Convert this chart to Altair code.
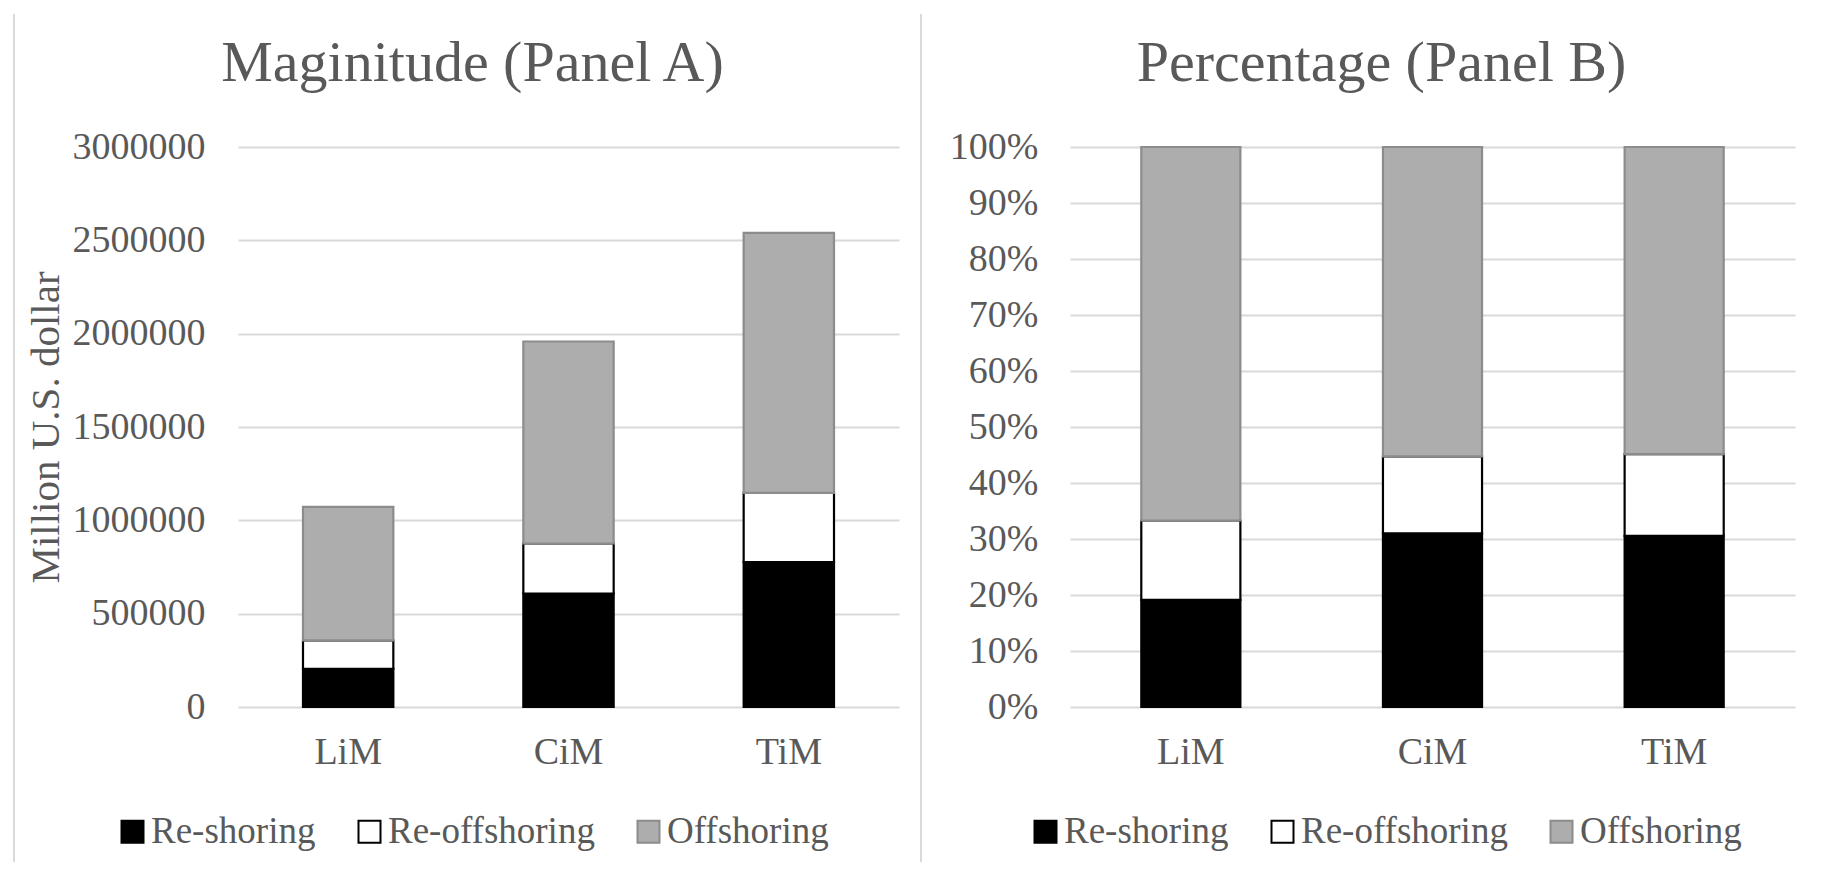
import altair as alt
import pandas as pd

categories = ["LiM", "CiM", "TiM"]
series = ["Re-shoring", "Re-offshoring", "Offshoring"]
reshoring = [205000, 607000, 776000]
reoffshoring = [152000, 269000, 371000]
offshoring = [715000, 1082000, 1393000]

fills = ["#000000", "#ffffff", "#adadad"]
strokes = ["#000000", "#000000", "#8c8c8c"]

rows = []
for i, c in enumerate(categories):
    for j, (s, vals) in enumerate(zip(series, [reshoring, reoffshoring, offshoring])):
        rows.append({"cat": c, "series": s, "ord": j, "value": vals[i]})
df = pd.DataFrame(rows)

FONT = "Liberation Serif"
TXT = "#595959"
GRID = "#d9d9d9"
H = 560


def legend(lx, ly):
    return alt.Legend(
        orient="none", legendX=lx, legendY=ly, direction="horizontal",
        title=None, symbolType="square", symbolSize=484, symbolStrokeWidth=2,
        labelFont=FONT, labelFontSize=37, labelColor=TXT, labelOffset=0,
        columnPadding=35, labelLimit=400,
    )


def panel(title, dx, width, yaxis, yscale, stack, lx, border_x):
    base = alt.Chart(df)
    bars = base.mark_bar(strokeWidth=2.2).encode(
        x=alt.X("cat:N", sort=categories,
                scale=alt.Scale(paddingInner=0.59, paddingOuter=0.295),
                axis=alt.Axis(title=None, labelAngle=0, labelFont=FONT,
                              labelFontSize=38, labelColor=TXT, labelPadding=26,
                              domain=False, ticks=False, grid=False)),
        y=alt.Y("value:Q", stack=stack, scale=yscale, axis=yaxis),
        fill=alt.Fill("series:N", scale=alt.Scale(domain=series, range=fills),
                      legend=legend(lx, 666)),
        stroke=alt.Stroke("series:N", scale=alt.Scale(domain=series, range=strokes),
                          legend=legend(lx, 666)),
        order=alt.Order("ord:Q"),
    )
    border = alt.Chart(pd.DataFrame({"a": [0]})).mark_rule(
        color=GRID, strokeWidth=2
    ).encode(x=alt.value(border_x), y=alt.value(-133), y2=alt.value(715))
    return alt.layer(border, bars).properties(
        width=width, height=H,
        title=alt.TitleParams(title, font=FONT, fontSize=58, color=TXT,
                              fontWeight="normal", anchor="middle",
                              frame="group", dx=dx, offset=-80),
    )


axis_a = alt.Axis(values=[0, 500000, 1000000, 1500000, 2000000, 2500000, 3000000],
                  format="d", labelFont=FONT, labelFontSize=38, labelColor=TXT,
                  labelPadding=33, domain=False, ticks=False, grid=True,
                  gridColor=GRID, gridWidth=2,
                  title="Million U.S. dollar", titleFont=FONT, titleFontSize=41,
                  titleColor=TXT, titleFontWeight="normal", titlePadding=5)
axis_b = alt.Axis(values=[i / 10 for i in range(11)], format=".0%",
                  labelFont=FONT, labelFontSize=38, labelColor=TXT,
                  labelPadding=32, domain=False, ticks=False, grid=True,
                  gridColor=GRID, gridWidth=2, title=None)

left = panel("Maginitude (Panel A)", -96, 661, axis_a,
             alt.Scale(domain=[0, 3000000], nice=False), "zero", -124, -224)
right = panel("Percentage (Panel B)", -51, 725, axis_b,
              alt.Scale(domain=[0, 1], nice=False), "normalize", -43, -149)

chart = alt.hconcat(left, right, spacing=21).resolve_scale(
    x="independent", y="independent", fill="independent", stroke="independent"
).resolve_legend(fill="independent", stroke="independent").configure_view(
    stroke=None
).properties(background="white")

chart.save("out.html", embed_options={"renderer": "svg", "actions": False})
